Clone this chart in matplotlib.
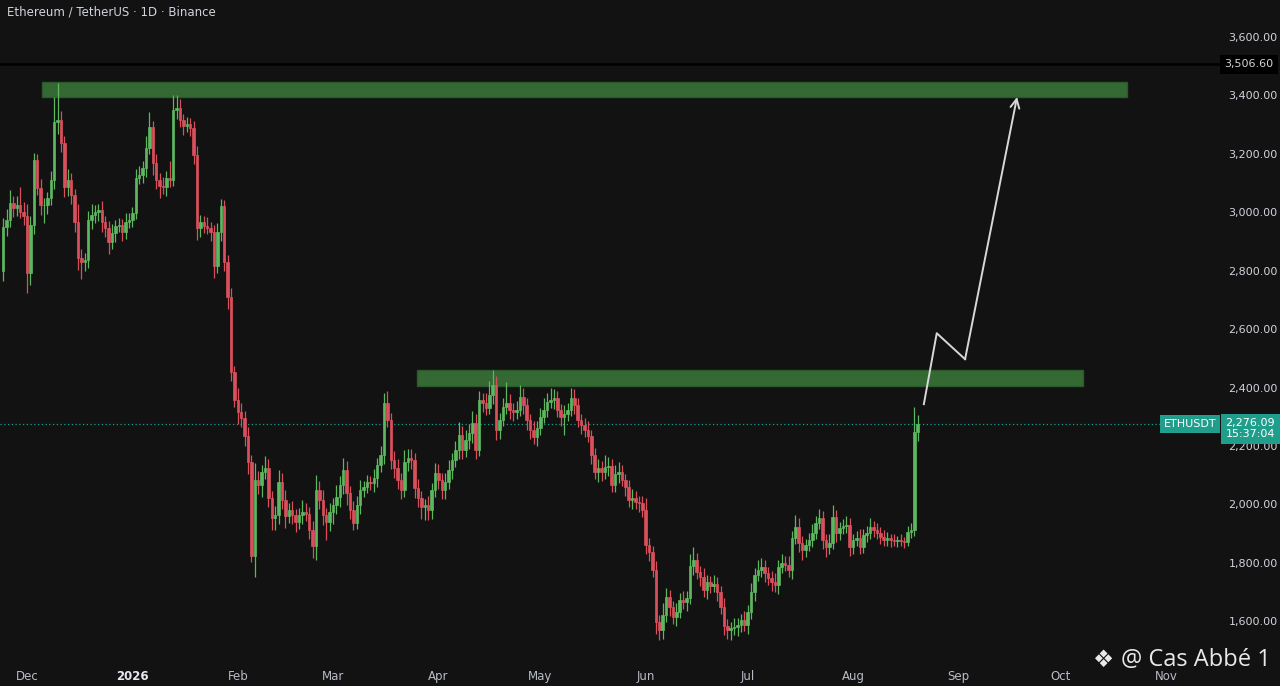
import matplotlib
matplotlib.use('Agg')
import matplotlib.pyplot as plt
import matplotlib.dates as mdates
import matplotlib.transforms as mtransforms
from matplotlib.patches import Rectangle
from matplotlib.ticker import FuncFormatter
import pandas as pd

# daily ETH/USDT candles, 24 Nov 2025 .. 20 Aug 2026
dates = pd.date_range('2025-11-24', periods=270, freq='D')
first_open = 2800
closes = [
    2949, 2973, 3032, 3014, 3025, 3001, 2987, 2792, 2956, 3179,
    3083, 3025, 3025, 3049, 3110, 3309, 3316, 3237, 3086, 3110,
    3059, 2967, 2843, 2830, 2836, 2973, 2990, 3001, 3008, 2967,
    2946, 2898, 2929, 2953, 2956, 2932, 2967, 2973, 2997, 3117,
    3127, 3151, 3220, 3292, 3169, 3110, 3090, 3086, 3117, 3110,
    3350, 3357, 3316, 3295, 3302, 3288, 3196, 2946, 2967, 2953,
    2946, 2932, 2816, 2932, 3021, 2830, 2710, 2453, 2357, 2316,
    2296, 2234, 2145, 1823, 2083, 2066, 2111, 2124, 2022, 1953,
    1963, 2076, 2015, 1960, 1981, 1963, 1939, 1963, 1974, 1967,
    1912, 1857, 2049, 2015, 1963, 1939, 1974, 1998, 2025, 2066,
    2117, 2039, 1981, 1936, 1998, 2049, 2059, 2076, 2073, 2090,
    2135, 2169, 2347, 2289, 2152, 2124, 2083, 2049, 2145, 2159,
    2152, 2056, 2022, 1991, 1998, 1981, 2049, 2107, 2083, 2049,
    2076, 2117, 2152, 2186, 2237, 2186, 2220, 2244, 2278, 2186,
    2357, 2347, 2330, 2374, 2408, 2254, 2289, 2333, 2347, 2323,
    2316, 2323, 2367, 2340, 2289, 2254, 2230, 2261, 2299, 2323,
    2350, 2357, 2364, 2323, 2299, 2309, 2323, 2364, 2340, 2289,
    2271, 2254, 2234, 2169, 2111, 2124, 2111, 2128, 2131, 2066,
    2104, 2111, 2083, 2059, 2015, 2022, 2008, 2004, 1981, 1861,
    1837, 1775, 1597, 1570, 1621, 1683, 1648, 1614, 1631, 1672,
    1665, 1679, 1789, 1809, 1768, 1751, 1707, 1734, 1720, 1727,
    1700, 1648, 1583, 1570, 1576, 1580, 1587, 1604, 1587, 1631,
    1700, 1758, 1775, 1785, 1765, 1748, 1734, 1724, 1785, 1799,
    1792, 1775, 1885, 1922, 1868, 1844, 1861, 1878, 1902, 1936,
    1953, 1878, 1854, 1868, 1957, 1902, 1919, 1926, 1929, 1854,
    1878, 1885, 1854, 1895, 1902, 1922, 1912, 1902, 1888, 1878,
    1885, 1878, 1874, 1878, 1874, 1871, 1905, 1912, 2248, 2276,
]
wick_up = [
    30, 40, 45, 25, 30, 60, 35, 40, 30, 25,
    20, 30, 25, 20, 30, 86, 127, 30, 25, 40,
    25, 20, 60, 30, 25, 30, 40, 25, 20, 30,
    20, 25, 30, 20, 25, 20, 30, 25, 20, 30,
    30, 25, 40, 50, 20, 30, 25, 30, 25, 60,
    51, 44, 30, 20, 25, 20, 25, 30, 25, 20,
    30, 20, 25, 30, 25, 20, 25, 30, 20, 40,
    30, 25, 30, 25, 60, 30, 25, 40, 30, 25,
    30, 40, 30, 35, 25, 30, 20, 25, 40, 30,
    25, 30, 50, 30, 35, 25, 30, 25, 40, 30,
    40, 30, 25, 30, 30, 35, 20, 25, 20, 30,
    25, 30, 34, 40, 25, 30, 30, 25, 40, 30,
    30, 25, 30, 25, 20, 30, 25, 35, 30, 25,
    30, 35, 25, 30, 45, 30, 35, 30, 40, 30,
    30, 25, 35, 50, 52, 30, 25, 30, 72, 30,
    25, 30, 40, 30, 25, 20, 30, 25, 30, 40,
    30, 40, 30, 25, 20, 30, 25, 35, 30, 25,
    20, 25, 30, 20, 25, 30, 25, 40, 30, 25,
    30, 35, 25, 20, 25, 30, 25, 20, 25, 40,
    25, 20, 30, 25, 40, 30, 25, 20, 30, 25,
    30, 25, 40, 45, 25, 20, 30, 25, 20, 30,
    25, 20, 30, 25, 20, 30, 25, 20, 30, 25,
    30, 25, 35, 30, 25, 20, 25, 30, 25, 30,
    25, 30, 25, 40, 30, 25, 20, 25, 30, 25,
    30, 25, 20, 30, 40, 25, 20, 25, 30, 25,
    20, 25, 30, 20, 25, 30, 20, 25, 20, 25,
    20, 15, 20, 15, 20, 15, 20, 25, 85, 30,
]
wick_dn = [
    35, 30, 25, 30, 25, 20, 30, 70, 40, 30,
    25, 35, 60, 30, 25, 30, 40, 30, 35, 30,
    30, 35, 40, 60, 30, 25, 30, 25, 30, 35,
    30, 40, 25, 30, 20, 30, 25, 20, 25, 20,
    20, 25, 30, 20, 40, 30, 40, 25, 30, 25,
    20, 30, 25, 30, 20, 25, 30, 40, 30, 25,
    20, 30, 40, 25, 30, 30, 40, 30, 25, 40,
    30, 35, 40, 20, 72, 30, 40, 25, 30, 40,
    40, 30, 30, 40, 25, 30, 35, 25, 30, 25,
    30, 40, 48, 30, 35, 60, 30, 40, 30, 35,
    30, 40, 30, 25, 20, 30, 25, 20, 25, 30,
    30, 25, 30, 25, 30, 35, 30, 30, 25, 30,
    30, 35, 30, 40, 45, 35, 30, 25, 30, 30,
    30, 25, 30, 25, 30, 30, 25, 30, 35, 30,
    20, 30, 25, 20, 30, 35, 30, 20, 25, 30,
    30, 25, 20, 30, 35, 30, 25, 30, 25, 20,
    25, 20, 30, 25, 30, 60, 25, 20, 30, 25,
    30, 25, 20, 30, 25, 35, 30, 25, 30, 25,
    25, 30, 20, 30, 25, 30, 25, 30, 25, 30,
    30, 25, 40, 35, 30, 25, 30, 25, 30, 20,
    25, 30, 20, 30, 25, 30, 25, 30, 25, 20,
    30, 25, 30, 30, 35, 25, 30, 25, 20, 30,
    25, 30, 20, 25, 30, 25, 30, 25, 30, 20,
    20, 25, 30, 20, 30, 35, 25, 20, 25, 20,
    20, 30, 35, 25, 20, 30, 25, 20, 25, 30,
    25, 20, 25, 20, 25, 20, 25, 20, 25, 20,
    20, 25, 15, 20, 15, 20, 15, 20, 20, 30,
]

price_ticks = [1600, 1800, 2000, 2200, 2400, 2600, 2800, 3000, 3200, 3400, 3600]
month_ticks = ['2025-12-01', '2026-01-01', '2026-02-01', '2026-03-01', '2026-04-01',
               '2026-05-01', '2026-06-01', '2026-07-01', '2026-08-01', '2026-09-01',
               '2026-10-01', '2026-11-01']
month_labels = ['Dec', '2026', 'Feb', 'Mar', 'Apr', 'May', 'Jun', 'Jul', 'Aug', 'Sep', 'Oct', 'Nov']

# resistance zones: (low, high, start, end)
top_zone = (3395, 3446, '2025-12-05 10:00', '2026-10-20 12:00')
mid_zone = (2405, 2460, '2026-03-25 16:00', '2026-10-07 14:00')
drawn_level = 3506.60
last_price = 2276.09
path_dates = ['2026-08-21 19:00', '2026-08-25 14:00', '2026-09-02 22:00', '2026-09-18 05:00']
path_prices = [2343, 2586, 2497, 3395]

BG = '#121212'
UP = '#5db75f'
DOWN = '#d9505c'
TXT = '#d1d4dc'
TEAL = '#1f9e8c'

opens = [first_open] + closes[:-1]
highs = [max(o, c) + u for o, c, u in zip(opens, closes, wick_up)]
lows = [min(o, c) - w for o, c, w in zip(opens, closes, wick_dn)]
colors = [UP if c >= o else DOWN for o, c in zip(opens, closes)]
x = mdates.date2num(dates)

fig = plt.figure(figsize=(12.8, 6.86), dpi=100, facecolor=BG)
ax = fig.add_axes([0, 26 / 686, 1220 / 1280, 660 / 686])
ax.set_facecolor(BG)
for s in ax.spines.values():
    s.set_visible(False)

# zones
for lo, hi, t0, t1 in (top_zone, mid_zone):
    x0 = mdates.date2num(pd.Timestamp(t0))
    x1 = mdates.date2num(pd.Timestamp(t1))
    ax.add_patch(Rectangle((x0, lo), x1 - x0, hi - lo, facecolor='#346934',
                           edgecolor='#2a5a2a', linewidth=1, zorder=1))

ax.axhline(drawn_level, color='black', lw=1.8, zorder=2)
ax.axhline(last_price, color=TEAL, lw=0.9, ls=(0, (1, 2)), zorder=1)

# candles
ax.vlines(x, lows, highs, colors=colors, linewidth=0.9, zorder=3)
bodies = [abs(c - o) for o, c in zip(opens, closes)]
bottoms = [min(o, c) for o, c in zip(opens, closes)]
ax.bar(x, bodies, bottom=bottoms, width=0.75, color=colors, edgecolor=colors,
       linewidth=0.5, zorder=4)

# projected path
px = mdates.date2num(pd.to_datetime(path_dates))
ax.plot(px[:-1], path_prices[:-1], color='#d8d8d8', lw=1.4, zorder=5)
ax.annotate('', xy=(px[-1], path_prices[-1]), xytext=(px[-2], path_prices[-2]),
            arrowprops=dict(arrowstyle='->', color='#d8d8d8', lw=1.4, mutation_scale=16,
                            shrinkA=0, shrinkB=0), zorder=5)

base = mdates.date2num(pd.Timestamp('2025-12-01'))
ax.set_xlim(base - 7.94, base + 350.9)
ax.set_ylim(1467, 3727)

ax.set_yticks(price_ticks)
ax.yaxis.set_major_formatter(FuncFormatter(lambda v, p: f'{v:,.2f}'))
ax.yaxis.tick_right()
ax.tick_params(axis='y', length=0, pad=6, labelsize=8, colors=TXT)

ax.set_xticks(mdates.date2num(pd.to_datetime(month_ticks)))
ax.set_xticklabels(month_labels)
ax.tick_params(axis='x', length=0, pad=7, labelsize=8.5, colors='#b8bcc6')
ax.get_xticklabels()[1].set_fontweight('bold')
ax.get_xticklabels()[1].set_color('#e6e8ee')

# price axis labels
tr = mtransforms.blended_transform_factory(ax.transAxes, ax.transData)
ax.text(1.0238, drawn_level, f'{drawn_level:,.2f}', transform=tr, ha='center', va='center',
        fontsize=8, color=TXT, clip_on=False, zorder=10,
        bbox=dict(boxstyle='square,pad=0.4', facecolor='black', edgecolor='none'))
ax.text(0.9754, last_price, 'ETHUSDT', transform=tr, ha='center', va='center',
        fontsize=8, color='white', clip_on=False, zorder=10,
        bbox=dict(boxstyle='square,pad=0.35', facecolor=TEAL, edgecolor='none'))
ax.annotate(f'{last_price:,.2f}\n15:37:04', xy=(1.0, last_price), xycoords=tr,
            xytext=(4, 4), textcoords='offset points', ha='left', va='top',
            fontsize=8, color='white', linespacing=1.15, annotation_clip=False, zorder=10,
            bbox=dict(boxstyle='square,pad=0.4', facecolor=TEAL, edgecolor='none'))

fig.text(7 / 1280, 1 - 12 / 686, 'Ethereum / TetherUS · 1D · Binance', fontsize=8.5,
         color=TXT, va='center', ha='left')
fig.text(1103 / 1280, 1 - 660 / 686, '❖', fontsize=17, color='#e8e8e8',
         va='center', ha='center')
fig.text(1121 / 1280, 1 - 660 / 686, '@ Cas Abbé 1', fontsize=17, color='#e8e8e8',
         va='center', ha='left', family='Open Sans')

fig.savefig('out.png', dpi=100, facecolor=BG)
